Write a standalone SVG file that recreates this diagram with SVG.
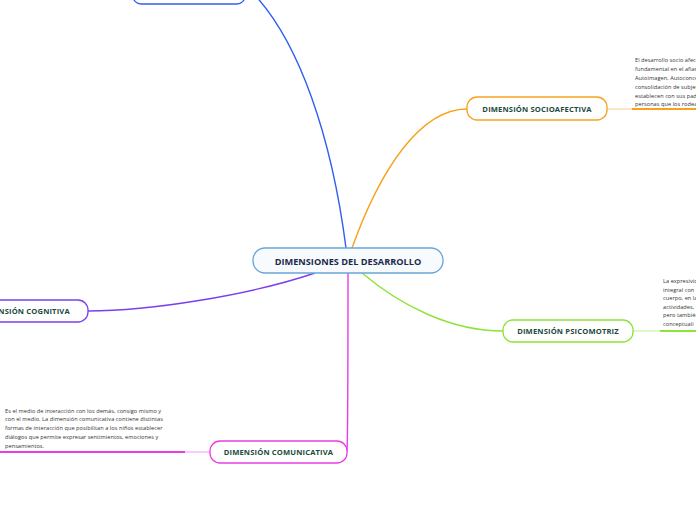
<svg xmlns="http://www.w3.org/2000/svg" width="696" height="520" viewBox="0 0 696 520">
<style>
.bg{fill:#ffffff}
.node{fill:#ffffff;stroke-width:1.3}
.lbl{font-family:"Open Sans","Noto Sans",sans-serif;font-weight:bold;font-size:7.6px;letter-spacing:0.15px;fill:#1b4a3c;text-anchor:middle}
.main{font-family:"Open Sans","Noto Sans",sans-serif;font-weight:bold;font-size:9.2px;fill:#1c2a4a;text-anchor:middle}
.note{font-family:"Open Sans","Noto Sans",sans-serif;font-size:5.6px;letter-spacing:0.05px;fill:#333333}
.conn{fill:none;stroke-width:1.4}
</style>
<rect class="bg" x="0" y="0" width="696" height="520"/>
<g id="connectors">
<path class="conn" stroke="#2f5ff0" d="M346 248 C332 140 300 40 250 -10"/>
<path class="conn" stroke="#f7a21b" d="M352 248 C380 170 420 109 467 109"/>
<path class="conn" stroke="#8fe23a" d="M362 273 C400 305 450 331 503 331"/>
<path class="conn" stroke="#7a3ff0" d="M315 273 C250 295 150 311 88 311"/>
<path class="conn" stroke="#e83ee6" d="M348 273 C348 380 348 430 347 452"/>
<path stroke="#fbd6a0" stroke-width="1.2" d="M607 109 L632 109"/>
<path stroke="#f7a21b" stroke-width="1.8" d="M632 109 L696 109"/>
<path stroke="#c9f59e" stroke-width="1.2" d="M633 331 L660 331"/>
<path stroke="#8fe23a" stroke-width="1.8" d="M660 331 L696 331"/>
<path stroke="#f6a9f4" stroke-width="1.2" d="M210 452 L185 452"/>
<path stroke="#e83ee6" stroke-width="1.8" d="M185 452 L0 452"/>
</g>
<g id="node-top">
<rect class="node" stroke="#2f5ff0" x="133" y="-20" width="112" height="24" rx="8"/>
</g>
<g id="node-main">
<rect fill="#f7fbfe" stroke="#6aa6d8" stroke-width="1.3" x="253" y="248" width="190" height="25" rx="12"/>
<text class="main" x="348" y="264.5">DIMENSIONES DEL DESARROLLO</text>
</g>
<g id="node-socioafectiva">
<rect class="node" stroke="#f7a21b" x="467" y="97" width="140" height="23" rx="10"/>
<text class="lbl" x="537" y="111.5">DIMENSIÓN SOCIOAFECTIVA</text>
<text class="note"><tspan x="635" y="62">El desarrollo socio afectivo</tspan><tspan x="635" y="71">fundamental en el afianzamiento</tspan><tspan x="635" y="80">Autoimagen, Autoconcepto</tspan><tspan x="635" y="89">consolidación de subjetividad</tspan><tspan x="635" y="97.5">establecen con sus padres</tspan><tspan x="635" y="106">personas que los rodean</tspan></text>
</g>
<g id="node-psicomotriz">
<rect class="node" stroke="#8fe23a" x="503" y="320" width="130" height="22" rx="10"/>
<text class="lbl" x="568" y="333.8">DIMENSIÓN PSICOMOTRIZ</text>
<text class="note"><tspan x="663" y="283">La expresividad</tspan><tspan x="663" y="291.5">integral con</tspan><tspan x="663" y="300">cuerpo, en la</tspan><tspan x="663" y="308.5">actividades,</tspan><tspan x="663" y="317">pero también</tspan><tspan x="663" y="325.5">conceptuali</tspan></text>
</g>
<g id="node-cognitiva">
<rect class="node" stroke="#7a3ff0" x="-40" y="300" width="128" height="22" rx="10"/>
<text class="lbl" x="24" y="313.8">DIMENSIÓN COGNITIVA</text>
</g>
<g id="node-comunicativa">
<rect class="node" stroke="#e83ee6" x="210" y="441" width="137" height="22" rx="10"/>
<text class="lbl" x="278.5" y="454.8">DIMENSIÓN COMUNICATIVA</text>
<text class="note"><tspan x="5" y="412.5">Es el medio de interacción con los demás, consigo mismo y</tspan><tspan x="5" y="421.3">con el medio. La dimensión comunicativa contiene distintas</tspan><tspan x="5" y="430.1">formas de interacción que posibilitan a los niños establecer</tspan><tspan x="5" y="438.9">diálogos que permite expresar sentimientos, emociones y</tspan><tspan x="5" y="447.7">pensamientos.</tspan></text>
</g>
</svg>
